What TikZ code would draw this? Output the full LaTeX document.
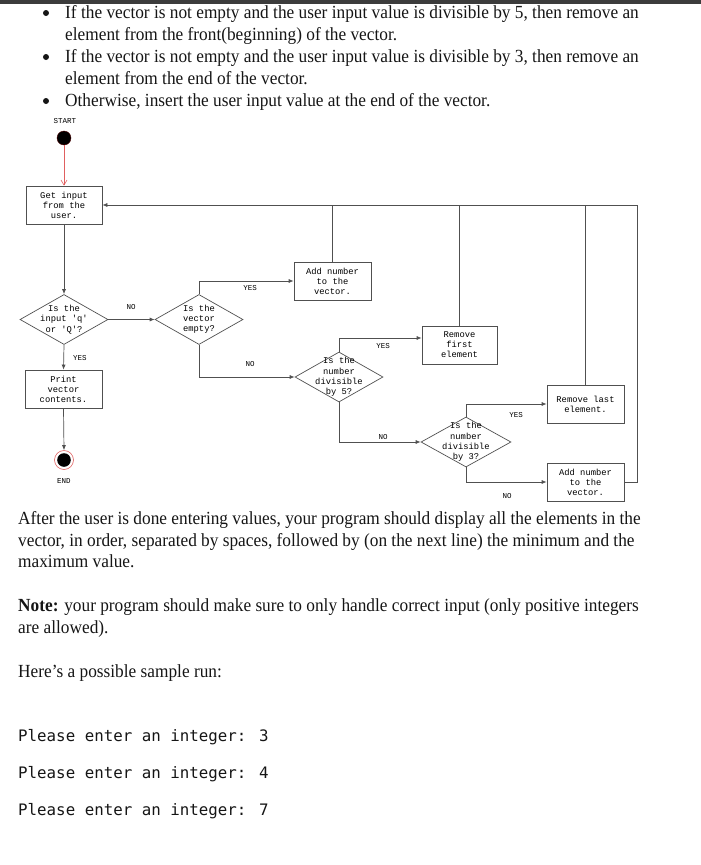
\documentclass[tikz,border=0pt]{standalone}
\usepackage{fontspec}
\setmainfont{Liberation Serif}[FakeStretch=0.935]
\newfontfamily\fcmono{Liberation Mono}
\newfontfamily\runmono{DejaVu Sans Mono}
\usetikzlibrary{shapes.geometric,arrows.meta}
\definecolor{boxc}{HTML}{505050}
\definecolor{linec}{HTML}{505050}
\definecolor{startred}{HTML}{E06060}
\definecolor{barc}{HTML}{3C3C3C}
\definecolor{txt}{HTML}{151515}
\begin{document}
\begin{tikzpicture}[x=1pt,y=-1pt,
  box/.style={draw=boxc, line width=0.7pt, minimum width=76pt, minimum height=38pt, inner sep=0pt, align=center, font=\fcmono\fontsize{8.8}{10}\selectfont},
  dia/.style={draw=boxc, diamond, line width=0.7pt, minimum width=88pt, minimum height=50pt, inner sep=0pt},
  dtext/.style={align=center, font=\fcmono\fontsize{8.8}{10.2}\selectfont, inner sep=0pt},
  lbl/.style={font=\fcmono\fontsize{7.5}{8}\selectfont, inner sep=0pt},
  conn/.style={draw=linec, line width=0.7pt},
  arr/.style={conn, -{Latex[length=5pt,width=4pt]}},
  body/.style={anchor=base west, inner sep=0pt, text=txt, font=\fontsize{18.5}{20}\selectfont},
  run/.style={anchor=base west, inner sep=0pt, text=txt, font=\runmono\fontsize{15.8}{18}\selectfont},
  bullet/.style={circle, fill=txt, minimum size=6pt, inner sep=0pt}
]
\useasboundingbox (0,0) rectangle (701,865);
\fill[barc] (0,0) rectangle (701,4);

% bullet list
\node[bullet] (b1) at (46,13) {};
\node[bullet] (b2) at (46,57) {};
\node[bullet] (b3) at (46,101) {};
\node[body] (t1) at (65,18) {If the vector is not empty and the user input value is divisible by 5, then remove an};
\node[body] (t2) at (65,40) {element from the front(beginning) of the vector.};
\node[body] (t3) at (65,62) {If the vector is not empty and the user input value is divisible by 3, then remove an};
\node[body] (t4) at (65,84) {element from the end of the vector.};
\node[body] (t5) at (65,106) {Otherwise, insert the user input value at the end of the vector.};

% flowchart
\node[lbl] (startlbl) at (65,121) {START};
\node[circle, fill=black, draw=black!70!red, minimum size=14pt, inner sep=0pt] (start) at (64,138) {};
\node[box] (get) at (64,205) {Get input\\from the\\user.};
\node[dia, label={[dtext]center:Is the\\input \textquotesingle q\textquotesingle\\or \textquotesingle Q\textquotesingle?}] (d1) at (64,319.5) {};
\node[dia, label={[dtext]center:Is the\\vector\\empty?}] (d2) at (199,319.5) {};
\node[box, minimum width=77pt] (add1) at (332.5,281) {Add number\\to the\\vector.};
\node[dia, label={[dtext]center:Is the\\number\\divisible\\by 5?}] (d3) at (339,377) {};
\node[box, minimum width=75pt] (rf) at (459.5,345) {Remove\\first\\element};
\node[dia, minimum width=90pt, label={[dtext]center:Is the\\number\\divisible\\by 3?}] (d4) at (466,442) {};
\node[box, minimum width=77pt] (rl) at (585.5,404) {Remove last\\element.};
\node[box, minimum width=77pt] (add2) at (585.5,482) {Add number\\to the\\vector.};
\node[box, minimum width=77pt] (print) at (63.5,389) {Print\\vector\\contents.};
\node[circle, draw=startred, line width=0.6pt, fill=white, minimum size=19pt, inner sep=0pt,
      path picture={\fill[black] (path picture bounding box.center) circle (6.8pt);}] (end) at (64,460) {};
\node[lbl] (endlbl) at (64,481) {END};
\coordinate (tr) at (637,205);

\draw[startred, line width=0.6pt, -{Straight Barb[length=5pt,width=6pt]}] (start) -- (get.north);
\draw[arr] (get.south) -- (d1.north);
\draw[arr] (d1.east) -- (d2.west);
\draw[arr] (d1.south) -- (print.north);
\draw[arr] (print.south) -- (end.north);
\draw[arr] (d2.north) |- (add1.west);
\draw[arr] (d2.south) |- (d3.west);
\draw[arr] (d3.north) |- ([yshift=7pt]rf.west);
\draw[arr] (d3.south) |- (d4.west);
\draw[arr] (d4.north) |- (rl.west);
\draw[arr] (d4.south) |- (add2.west);
\draw[arr] (add2.east) -| (tr) -- (get.east);
\draw[conn] (add1.north) -- (add1.north |- tr);
\draw[conn] (rf.north) -- (rf.north |- tr);
\draw[conn] (rl.north) -- (rl.north |- tr);

\node[lbl] (l1) at (131,307) {NO};
\node[lbl] (l2) at (80,358) {YES};
\node[lbl] (l3) at (250,288) {YES};
\node[lbl] (l4) at (250,364) {NO};
\node[lbl] (l5) at (383,346) {YES};
\node[lbl] (l6) at (383,437) {NO};
\node[lbl] (l7) at (516,415) {YES};
\node[lbl] (l8) at (507,496) {NO};

% lower text
\node[body] (p1) at (18,524) {After the user is done entering values, your program should display all the elements in the};
\node[body] (p2) at (18,546) {vector, in order, separated by spaces, followed by (on the next line) the minimum and the};
\node[body] (p3) at (18,567) {maximum value.};
\node[body] (p4) at (18,611) {\textbf{Note:} your program should make sure to only handle correct input (only positive integers};
\node[body] (p5) at (18,633) {are allowed).};
\node[body] (p6) at (18,677) {Here's a possible sample run:};
\node[run] (r1) at (18,741) {Please enter an integer: 3};
\node[run] (r2) at (18,778) {Please enter an integer: 4};
\node[run] (r3) at (18,815) {Please enter an integer: 7};
\end{tikzpicture}
\end{document}
